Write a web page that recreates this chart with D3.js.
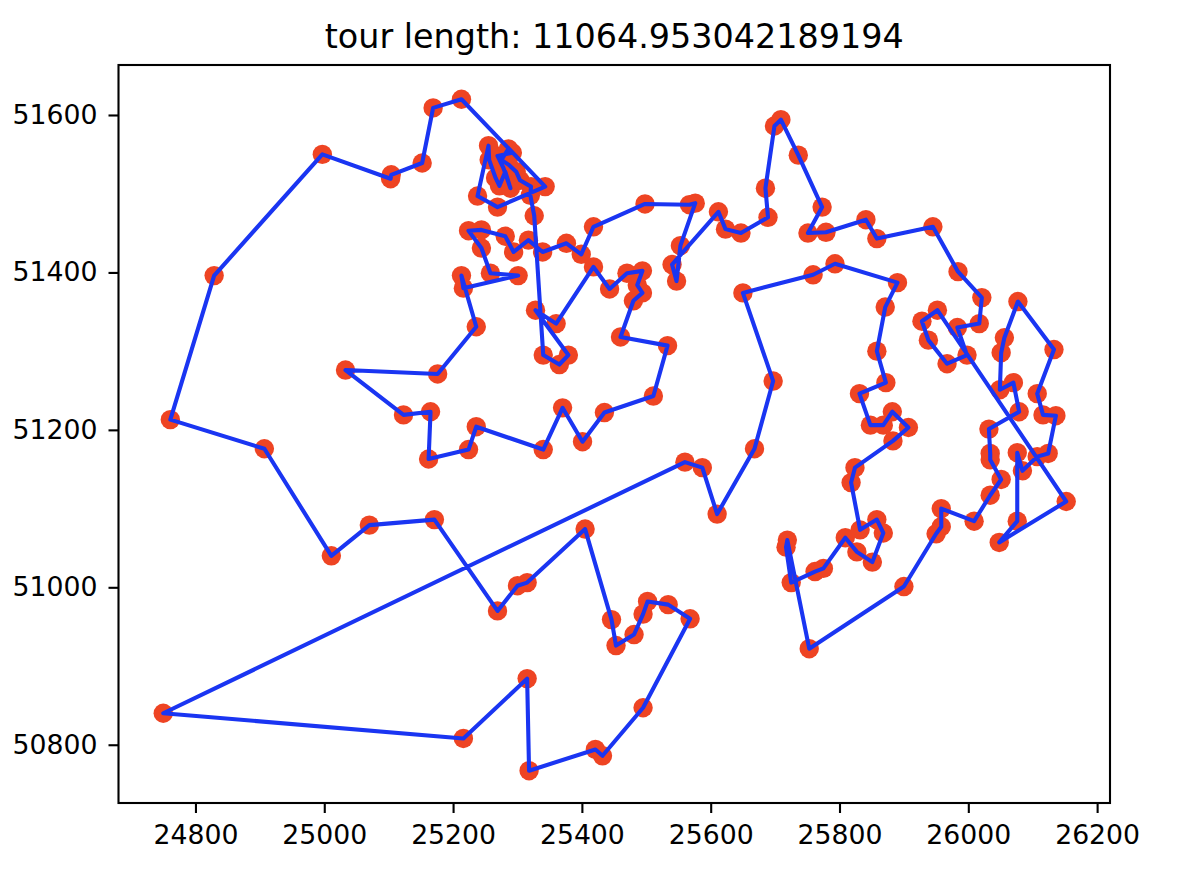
<!DOCTYPE html>
<html><head><meta charset="utf-8">
<script src="https://cdn.jsdelivr.net/npm/d3@7"></script>
<style>html,body{margin:0;padding:0;background:#fff}svg{display:block}text{font-family:"DejaVu Sans";fill:#000}</style>
</head><body><svg id="c" width="1188" height="876"></svg>
<script>
const titleText = "tour length: 11064.953042189194";
const xTicks = [24800,25000,25200,25400,25600,25800,26000,26200];
const yTicks = [50800,51000,51200,51400,51600];
const tourX = [24750,25216,25315,25318,25421,25432,25495,25568,25534,25502,25495,25481,25453,25446,25405,25315,25300,25269,25171,25070,25011,24907,24761,24829,24997,25103,25104,25152,25169,25213,25343,25269,25238,25255,25256,25266,25272,25281,25289,25278,25269,25292,25286,25275,25286,25298,25304,25321,25320,25326,25340,25365,25379,25328,25360,25418,25443,25470,25494,25486,25494,25480,25460,25533,25511,25435,25401,25370,25340,25236,25224,25162,25165,25123,25033,25176,25236,25213,25216,25301,25258,25244,25224,25244,25281,25294,25317,25339,25376,25399,25418,25498,25567,25576,25553,25547,25540,25612,25623,25647,25689,25685,25699,25709,25736,25773,25751,25779,25841,25858,25945,25984,26021,26017,25983,25998,25967,25938,25928,25952,26152,26048,26076,26076,26084,26107,26124,26136,26116,26107,26133,26077,26056,26051,26049,26070,26079,26032,26034,26034,26051,26034,26009,25958,25958,25950,25900,25753,25719,25717,25725,25762,25775,25809,25827,25851,25868,25858,25832,25818,25824,25883,25907,25882,25868,25848,25831,25872,25858,25871,25890,25793,25759,25650,25697,25668,25610,25587,25560];
const tourY = [50840,50808,50884,50767,50794,50786,50847,50960,50978,50982,50966,50940,50926,50959,51074,51006,51002,50970,51086,51079,51040,51176,51213,51396,51550,51519,51524,51539,51609,51620,51509,51483,51497,51561,51543,51520,51510,51528,51507,51533,51548,51552,51557,51543,51537,51528,51517,51509,51498,51472,51295,51283,51295,51352,51335,51407,51379,51399,51402,51384,51374,51364,51318,51307,51243,51222,51185,51228,51175,51204,51175,51163,51223,51219,51276,51271,51331,51396,51380,51396,51399,51431,51453,51454,51446,51426,51441,51426,51437,51423,51458,51487,51486,51488,51434,51389,51410,51477,51455,51450,51470,51507,51586,51594,51549,51483,51450,51451,51467,51443,51458,51401,51368,51335,51330,51295,51284,51314,51338,51352,51109,51057,51084,51171,51148,51166,51170,51218,51219,51246,51302,51363,51317,51298,51251,51260,51223,51201,51170,51162,51137,51117,51084,51100,51077,51068,51001,50922,51060,51051,51006,51020,51024,51063,51045,51032,51069,51086,51073,51133,51152,51186,51203,51223,51206,51206,51246,51260,51300,51356,51387,51411,51397,51374,51262,51176,51093,51152,51159];

const svg = d3.select("#c");
const frameL=118.5,frameR=1110,frameT=65,frameB=803;
const x = d3.scaleLinear().domain([24680.5,26220]).range([frameL,frameR]);
const y = d3.scaleLinear().domain([50726,51663.5]).range([frameB,frameT]);

const order = d3.range(tourX.length);
svg.append("g").selectAll("circle").data(order).join("circle")
  .attr("cx",i=>x(tourX[i])).attr("cy",i=>y(tourY[i])).attr("r",9.7).attr("fill","#EE4423");
const line = d3.line().x(i=>x(tourX[i])).y(i=>y(tourY[i])).curve(d3.curveLinearClosed);
svg.append("path").attr("d",line(order)).attr("fill","none").attr("stroke","#1A35F2")
  .attr("stroke-width",4.1).attr("stroke-linejoin","round");

function style(g){
  g.select(".domain").remove();
  g.selectAll("line").attr("stroke","#000").attr("stroke-width",2.1);
  g.selectAll("text").attr("font-size",26.7).attr("font-family","DejaVu Sans").attr("fill","#000");
}
svg.append("g").attr("transform",`translate(0,${frameB})`)
  .call(d3.axisBottom(x).tickValues(xTicks).tickFormat(d3.format("d")).tickSize(10).tickPadding(12)).call(style);
svg.append("g").attr("transform",`translate(${frameL},0)`)
  .call(d3.axisLeft(y).tickValues(yTicks).tickFormat(d3.format("d")).tickSize(10).tickPadding(11)).call(style);
svg.append("rect").attr("x",frameL).attr("y",frameT).attr("width",frameR-frameL).attr("height",frameB-frameT)
  .attr("fill","none").attr("stroke","#000").attr("stroke-width",2.1);
svg.append("text").attr("x",(frameL+frameR)/2).attr("y",48).attr("text-anchor","middle").attr("font-size",33.4).text(titleText);
</script></body></html>
